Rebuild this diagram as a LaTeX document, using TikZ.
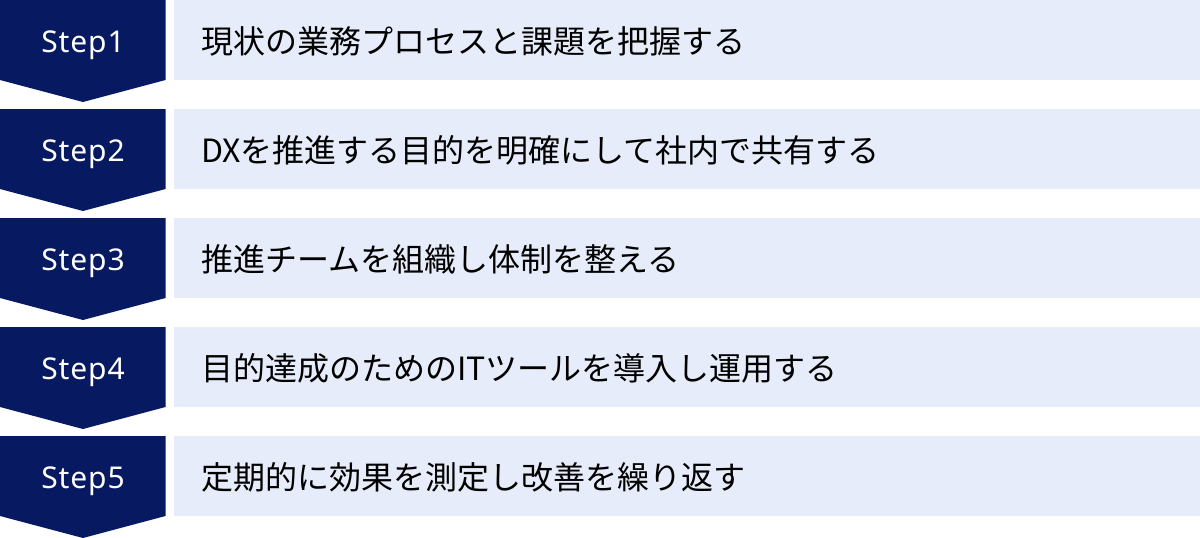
\documentclass[tikz,border=0pt]{standalone}
\usepackage{fontspec}
\setmainfont{Noto Sans}
\newfontfamily\stepfont[LetterSpace=3]{Noto Sans}
\newfontfamily\jpfont{Noto Sans CJK JP}
\definecolor{navy}{HTML}{061961}
\definecolor{lightbox}{HTML}{E6ECF9}
\tikzset{
  stepshape/.style={fill=navy},
  barshape/.style={fill=lightbox},
  steplabel/.style={text=white, font=\stepfont\fontsize{30}{34}\selectfont, inner sep=0pt, anchor=base},
  itemlabel/.style={text=black, font=\jpfont\fontsize{32}{36}\selectfont, inner sep=0pt, anchor=west},
}
\begin{document}
\begin{tikzpicture}[x=1pt,y=-1pt]
\useasboundingbox (0,0) rectangle (1200,538);
\foreach \i/\t/\txt in {1/0/現状の業務プロセスと課題を把握する,
                        2/109/DXを推進する目的を明確にして社内で共有する,
                        3/218/推進チームを組織し体制を整える,
                        4/327/目的達成のためのITツールを導入し運用する,
                        5/436/定期的に効果を測定し改善を繰り返す}{
  \fill[stepshape] (0,\t) -- (165.5,\t) -- (165.5,\t+80) -- (83,\t+102) -- (0,\t+80) -- cycle;
  \fill[barshape] (174,\t) rectangle (1200,\t+80);
  \node[steplabel] (step\i) at (83,\t+52) {Step\i};
  \node[itemlabel] (item\i) at (201,\t+41) {\txt};
}
\end{tikzpicture}
\end{document}
